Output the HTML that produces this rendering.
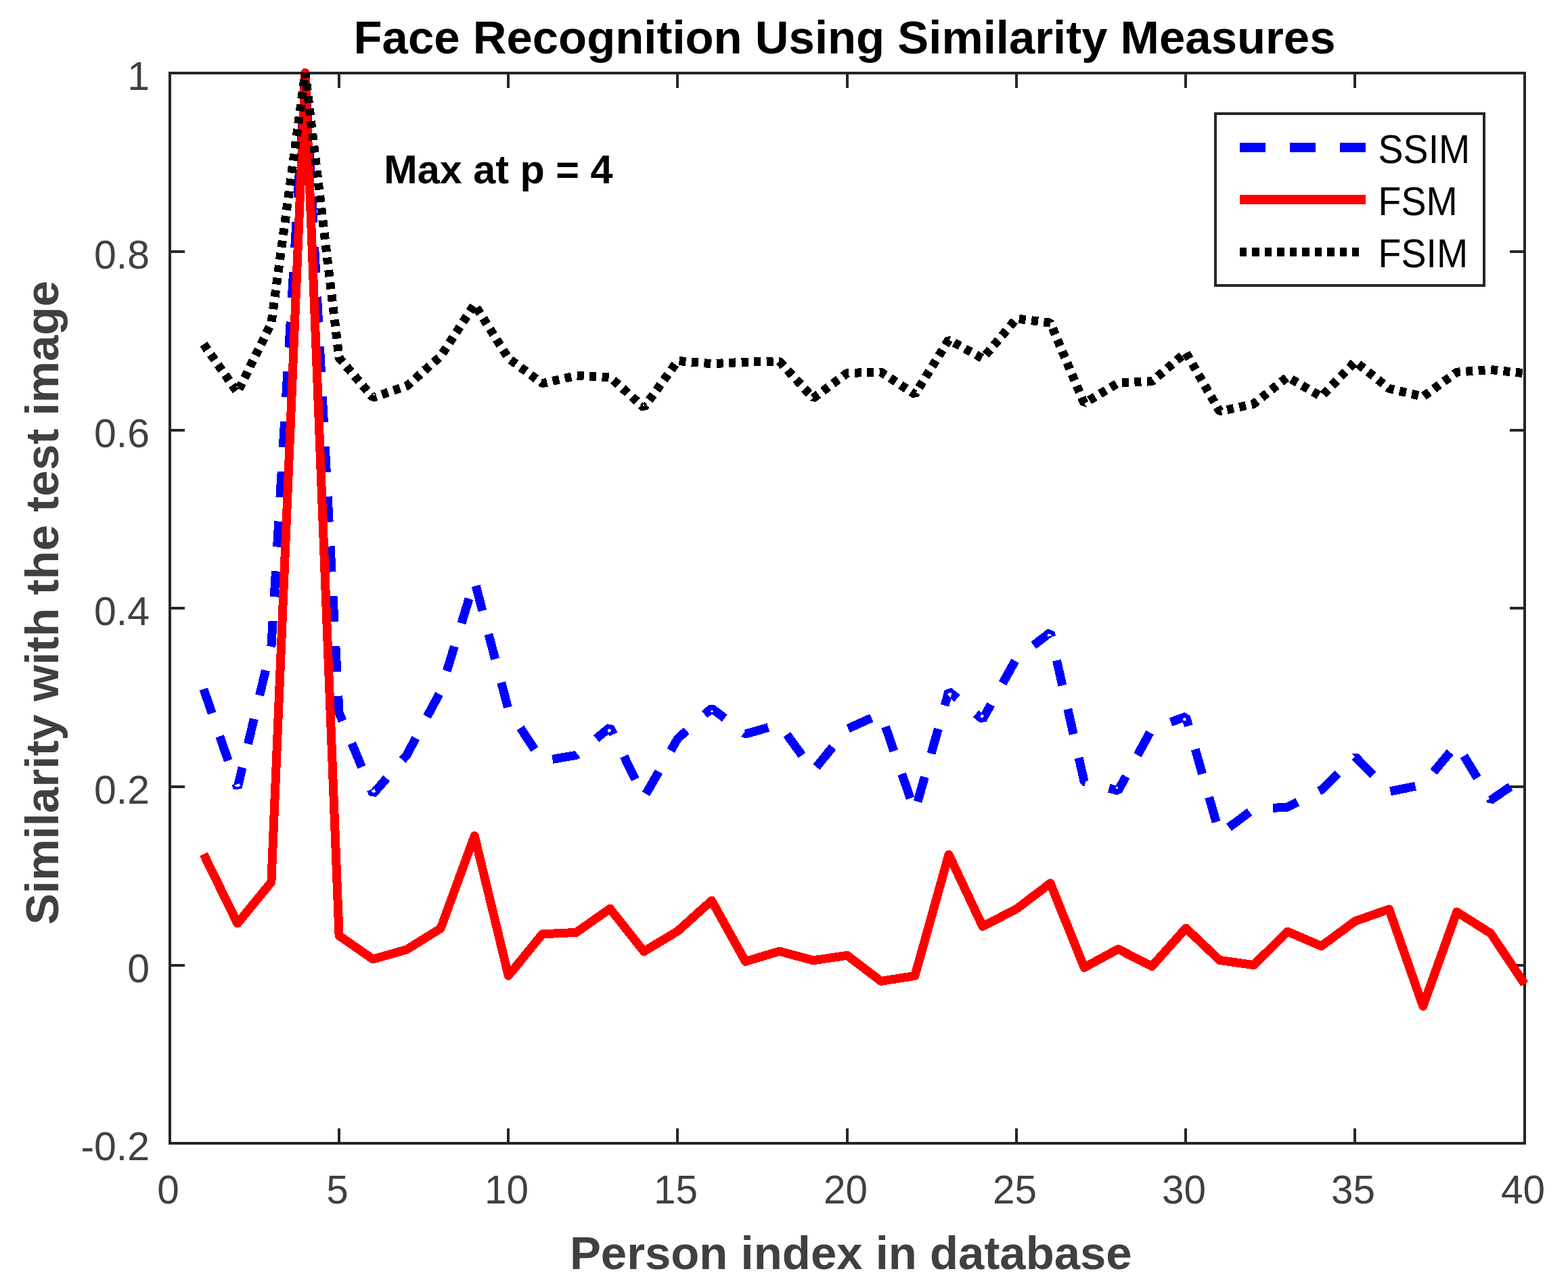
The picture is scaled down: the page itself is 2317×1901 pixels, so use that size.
<!DOCTYPE html>
<html lang="en"><head><meta charset="utf-8"><title>Face Recognition Using Similarity Measures</title>
<style>
html,body{margin:0;padding:0;background:#fff;}
body{width:2317px;height:1901px;overflow:hidden;}
svg{display:block;width:2317px;height:1901px;font-family:"Liberation Sans",Arial,Helvetica,sans-serif;}
.tk{font-size:58.5px;fill:#404040;}
.lb{font-size:68.9px;font-weight:bold;fill:#404040;}
.tt{font-size:68.9px;font-weight:bold;fill:#000;}
.an{font-size:59.4px;font-weight:bold;fill:#000;}
.lg{font-size:55.5px;fill:#000;}
</style></head><body>
<svg xmlns="http://www.w3.org/2000/svg" width="2317" height="1901" viewBox="0 0 2317 1901">
<rect x="0" y="0" width="2317" height="1901" fill="#fff"/>
<g fill="none" stroke="#262626" stroke-width="4" shape-rendering="crispEdges">
<rect x="251.0" y="108.0" width="2002.0" height="1582.0"/>
<path d="M501,1690.0v-22M501,108.0v22M751,1690.0v-22M751,108.0v22M1001,1690.0v-22M1001,108.0v22M1252,1690.0v-22M1252,108.0v22M1502,1690.0v-22M1502,108.0v22M1752,1690.0v-22M1752,108.0v22M2002,1690.0v-22M2002,108.0v22M251.0,1427h22M2253.0,1427h-22M251.0,1163h22M2253.0,1163h-22M251.0,899h22M2253.0,899h-22M251.0,636h22M2253.0,636h-22M251.0,372h22M2253.0,372h-22"/>
</g>
<g class="tk" text-anchor="middle">
<text transform="translate(248.6,1778.8) scale(1,1.016)">0</text>
<text transform="translate(498.6,1778.8) scale(1,1.016)">5</text>
<text transform="translate(748.6,1778.8) scale(1,1.016)">10</text>
<text transform="translate(998.6,1778.8) scale(1,1.016)">15</text>
<text transform="translate(1249.6,1778.8) scale(1,1.016)">20</text>
<text transform="translate(1499.6,1778.8) scale(1,1.016)">25</text>
<text transform="translate(1749.6,1778.8) scale(1,1.016)">30</text>
<text transform="translate(1999.6,1778.8) scale(1,1.016)">35</text>
<text transform="translate(2250.6,1778.8) scale(1,1.016)">40</text>
</g>
<g class="tk" text-anchor="end">
<text transform="translate(221.0,1715.0) scale(1.008,1.016)">-0.2</text>
<text transform="translate(221.0,1452.0) scale(1.008,1.016)">0</text>
<text transform="translate(221.0,1188.0) scale(1.008,1.016)">0.2</text>
<text transform="translate(221.0,924.0) scale(1.008,1.016)">0.4</text>
<text transform="translate(221.0,661.0) scale(1.008,1.016)">0.6</text>
<text transform="translate(221.0,397.0) scale(1.008,1.016)">0.8</text>
<text transform="translate(221.0,133.0) scale(1.008,1.016)">1</text>
</g>
<text class="tt" text-anchor="middle" x="1248" y="79.2">Face Recognition Using Similarity Measures</text>
<text class="lb" text-anchor="middle" x="1257.3" y="1876">Person index in database</text>
<text class="lb" text-anchor="middle" transform="translate(86,891) rotate(-90)" style="font-size:69.1px">Similarity with the test image</text>
<defs><mask id="mb" maskUnits="userSpaceOnUse" x="0" y="0" width="2317" height="1901"><rect x="0" y="0" width="2317" height="1901" fill="#fff"/><g fill="#000" shape-rendering="crispEdges"><polygon points="346.4,1162.2 346.8,1160.5 353.9,1158.1 355.1,1161.8 350.8,1163.2"/><polygon points="548.3,1169.3 549.3,1168.2 553.5,1166.4 555.1,1170.4 551.4,1172.0"/><polygon points="897.6,1078.6 901.0,1077.0 903.5,1079.9 899.7,1083.0"/><polygon points="1049.8,1051.9 1051.7,1049.4 1053.8,1051.7 1051.9,1053.5"/><polygon points="1399.9,1026.7 1402.5,1023.6 1406.4,1024.7 1404.7,1030.7"/><polygon points="1448.4,1059.7 1450.6,1055.7 1454.0,1058.6 1451.6,1061.5"/><polygon points="1548.3,940.8 1547.6,937.4 1551.5,936.5 1553.9,939.5"/><polygon points="1648.5,1165.1 1649.7,1162.9 1652.1,1163.6 1651.2,1166.6"/><polygon points="1747.9,1062.2 1751.4,1061.2 1752.6,1064.6 1749.0,1065.9"/></g></mask><mask id="mk" maskUnits="userSpaceOnUse" x="0" y="0" width="2317" height="1901"><rect x="0" y="0" width="2317" height="1901" fill="#fff"/><g fill="#000" shape-rendering="crispEdges"><polygon points="349.4,571.7 350.1,570.2 352.1,573.0"/><polygon points="551.2,583.2 552.8,581.9 553.3,582.5 553.6,583.5 551.8,585.0"/><polygon points="949.5,599.0 950.6,597.6 952.5,599.0 951.3,600.3"/></g></mask></defs>
<g fill="none" stroke-width="13" stroke-linejoin="round" stroke-linecap="butt" shape-rendering="crispEdges">
<polyline mask="url(#mb)" stroke="#0000ff" stroke-linejoin="bevel" stroke-dasharray="38 35.856" points="300.9,1018.5 350.9,1164.8 400.9,955.5 451.0,107.5 501.1,1053.7 551.1,1173.7 601.1,1116.0 651.2,1021.6 701.2,858.3 751.3,1049.1 801.3,1124.9 851.4,1116.3 901.4,1075.1 951.5,1178.9 1001.5,1091.7 1051.6,1047.0 1101.6,1085.1 1151.7,1070.6 1201.8,1139.6 1251.8,1077.6 1301.8,1054.9 1351.9,1199.6 1402.0,1021.9 1452.0,1063.4 1502.0,973.4 1552.1,934.8 1602.1,1155.3 1652.2,1168.8 1702.2,1077.3 1752.3,1059.4 1802.3,1233.1 1852.4,1196.0 1902.5,1193.1 1952.5,1167.7 2002.5,1118.5 2052.6,1170.1 2102.7,1160.0 2152.7,1100.0 2202.8,1182.9 2252.8,1148.4"/>
<polyline stroke="#ff0000" points="300.9,1262.6 350.9,1365.0 400.9,1303.9 451.0,107.5 501.1,1383.2 551.1,1417.9 601.1,1403.6 651.2,1372.4 701.2,1235.6 751.3,1442.3 801.3,1380.8 851.4,1378.4 901.4,1343.2 951.5,1406.5 1001.5,1376.3 1051.6,1331.3 1101.6,1421.3 1151.7,1406.2 1201.8,1419.7 1251.8,1412.3 1301.8,1450.4 1351.9,1442.5 1402.0,1263.3 1452.0,1369.4 1502.0,1343.7 1552.1,1305.6 1602.1,1430.3 1652.2,1403.0 1702.2,1428.4 1752.3,1372.0 1802.3,1419.4 1852.4,1426.6 1902.5,1377.1 1952.5,1398.5 2002.5,1361.7 2052.6,1344.0 2102.7,1487.4 2152.7,1348.0 2202.8,1379.7 2252.8,1454.6"/>
<polyline mask="url(#mk)" stroke="#000000" stroke-linejoin="bevel" stroke-dasharray="10 8.470" points="300.9,508.8 350.9,580.0 400.9,477.8 451.0,107.5 501.1,529.0 551.1,587.6 601.1,570.7 651.2,526.6 701.2,449.9 751.3,529.7 801.3,566.7 851.4,555.5 901.4,557.5 951.5,602.3 1001.5,533.4 1051.6,537.7 1101.6,535.2 1151.7,534.2 1201.8,588.6 1251.8,551.5 1301.8,550.0 1351.9,582.9 1402.0,502.1 1452.0,529.9 1502.0,470.9 1552.1,477.2 1602.1,596.3 1652.2,566.1 1702.2,563.7 1752.3,521.1 1802.3,608.2 1852.4,597.1 1902.5,557.2 1952.5,586.3 2002.5,534.5 2052.6,574.3 2102.7,586.3 2152.7,550.2 2202.8,546.5 2252.8,551.8"/>
</g>
<text class="an" x="567.2" y="270.9">Max at p = 4</text>
<g shape-rendering="crispEdges">
<rect x="1796" y="168" width="397" height="254" fill="#fff" stroke="#262626" stroke-width="4"/>
<g fill="none" stroke-width="13.5">
<path stroke="#0000ff" stroke-dasharray="38 36" d="M1832,218H2018"/>
<path stroke="#ff0000" d="M1832,295H2018"/>
<path stroke="#000000" stroke-dasharray="10.4 8.05" d="M1832,372.5H2009"/>
</g></g>
<g class="lg">
<text transform="translate(2036.6,241) scale(1,1.065)">SSIM</text>
<text transform="translate(2036.6,318.3) scale(1,1.065)">FSM</text>
<text transform="translate(2036.6,395.1) scale(1,1.065)">FSIM</text>
</g>
</svg>
</body></html>
